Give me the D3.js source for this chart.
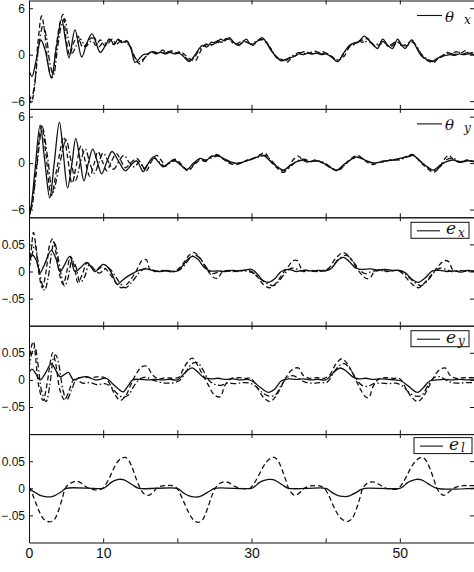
<!DOCTYPE html>
<html>
<head>
<meta charset="utf-8">
<script src="https://cdn.jsdelivr.net/npm/d3@7"></script>
<style>
  html, body { margin: 0; padding: 0; background: #fff; }
  svg { display: block; }
  .tick text { font-family: "Liberation Sans", Arial, sans-serif; fill: #111; }
  .legend text { font-family: "DejaVu Serif", "Liberation Serif", serif; font-style: italic; fill: #111; }
</style>
</head>
<body>
<svg></svg>
<script>
/**
 * Data: [time, value] pairs.
 */
const timeTicks = [0, 10, 20, 30, 40, 50, 60];
const timeLabels = ['0', '10', '', '30', '', '50', ''];
const angleTicks = [-6, 0, 6];
const angleLabels = ['\u22126', '0', '6'];
const errTicks = [-0.05, 0, 0.05];
const errLabels = ['\u2212.05', '0', '0.05'];

const thetaXSolid = [[0,-2.0],[0.4,-2.8],[0.9,-1.0],[1.6,1.9],[2.2,0.5],[3.0,-3.0],[3.7,1.0],[4.4,4.6],[4.9,2.0],[5.4,-0.4],[6.2,3.2],[7.1,-0.3],[7.8,1.5],[8.5,2.7],[9.6,0.3],[10.2,1.0],[10.9,2.0],[11.5,1.3],[12.0,2.0],[12.6,1.6],[13.2,1.8],[13.8,0.6],[14.3,-1.0],[14.8,-0.6],[15.4,0.0],[16.0,0.1],[16.6,0.4],[17.2,0.2],[17.8,0.3],[18.4,0.1],[19.0,0.3],[19.6,0.1],[20.2,0.2],[20.8,-0.2],[21.6,-0.9],[22.2,-0.3],[22.8,0.6],[23.4,1.2],[24.0,1.0],[24.6,1.6],[25.2,1.5],[25.8,2.0],[26.4,1.8],[27.0,2.2],[27.6,1.6],[28.2,1.2],[28.8,1.6],[29.3,2.0],[29.9,1.3],[30.6,1.6],[31.4,2.2],[32.0,1.6],[32.6,0.6],[33.4,-0.3],[34.0,-0.8],[34.6,-0.6],[35.2,-0.4],[35.8,-0.2],[36.4,0.1],[37.0,0.0],[37.6,0.2],[38.2,0.1],[38.8,0.2],[39.4,0.0],[40.0,0.1],[40.8,-0.3],[41.6,-0.9],[42.4,0.2],[43.2,1.2],[43.8,1.5],[44.4,1.6],[45.2,2.4],[45.8,1.9],[46.4,1.3],[47.0,0.8],[47.7,2.0],[48.3,1.3],[49.0,0.8],[49.7,2.0],[50.2,1.3],[50.7,0.8],[51.6,1.9],[52.2,1.0],[52.8,0.0],[53.6,-0.6],[54.4,-0.9],[55.0,-0.5],[55.6,-0.3],[56.2,-0.1],[56.8,0.0],[57.4,-0.1],[58.0,0.1],[58.6,0.0],[59.2,0.1],[60,0.0]];
const thetaXDashed = [[0,-5.7],[0.3,-6.2],[0.7,-4.5],[1.2,1.5],[1.7,5.0],[2.1,3.0],[2.6,-1.5],[3.1,-3.0],[3.6,0.5],[4.2,4.2],[4.6,5.2],[5.0,2.0],[5.5,0.0],[6.0,1.5],[6.6,2.4],[7.2,1.0],[7.8,1.4],[8.4,2.2],[9.0,1.2],[9.6,1.9],[10.2,1.2],[10.8,2.0],[11.4,1.3],[12.0,1.9],[12.6,1.5],[13.2,1.7],[13.8,0.8],[14.5,-0.8],[15.0,-1.2],[15.6,-0.4],[16.2,0.2],[16.8,0.4],[17.4,0.2],[18.0,0.6],[18.6,0.3],[19.2,0.5],[19.8,0.2],[20.4,0.4],[21.0,0.0],[21.8,-0.6],[22.4,-0.8],[23.0,0.2],[23.6,1.2],[24.2,1.4],[24.8,1.3],[25.4,1.8],[26.0,1.6],[26.6,2.1],[27.2,1.8],[27.8,1.5],[28.4,1.3],[29.0,1.7],[29.6,1.5],[30.2,1.2],[30.8,1.8],[31.6,1.9],[32.2,1.4],[32.8,0.4],[33.5,-0.5],[34.1,-0.6],[34.8,-1.0],[35.4,-0.4],[36.0,-0.1],[36.6,0.2],[37.2,0.4],[37.8,0.2],[38.4,0.5],[39.0,0.3],[39.6,0.4],[40.2,0.1],[41.0,-0.4],[41.8,-0.7],[42.5,-0.2],[43.2,1.0],[43.8,1.3],[44.4,1.8],[45.0,1.6],[45.6,2.1],[46.2,1.5],[46.8,1.0],[47.4,1.4],[48.0,1.5],[48.6,1.0],[49.2,1.3],[49.8,1.6],[50.4,1.1],[51.0,1.2],[51.8,1.6],[52.4,0.8],[53.0,-0.2],[53.8,-0.8],[54.6,-1.0],[55.2,-0.4],[55.8,-0.1],[56.4,0.3],[57.0,0.1],[57.6,0.4],[58.2,0.2],[58.8,0.5],[59.4,0.2],[60,0.3]];
const thetaXDashDot = [[0,-5.0],[0.3,-5.8],[0.8,-3.5],[1.3,1.0],[1.9,3.8],[2.4,2.0],[2.8,-1.0],[3.3,-2.6],[3.8,0.5],[4.3,3.5],[4.8,4.6],[5.3,2.0],[5.8,0.2],[6.4,1.2],[7.0,2.0],[7.6,1.0],[8.2,1.6],[8.8,2.2],[9.4,1.0],[10.0,1.6],[10.6,1.4],[11.2,2.0],[11.8,1.4],[12.4,1.8],[13.0,1.6],[13.6,1.1],[14.2,-0.2],[14.8,-0.9],[15.4,-0.6],[16.0,0.0],[16.6,0.3],[17.2,0.1],[17.8,0.4],[18.4,0.2],[19.0,0.5],[19.6,0.2],[20.2,0.3],[20.8,-0.1],[21.6,-0.7],[22.2,-0.5],[22.8,0.4],[23.4,1.0],[24.0,1.3],[24.6,1.2],[25.2,1.7],[25.8,1.5],[26.4,1.9],[27.0,2.0],[27.6,1.4],[28.2,1.5],[28.8,1.8],[29.4,1.6],[30.0,1.4],[30.6,1.7],[31.4,2.0],[32.0,1.5],[32.6,0.8],[33.3,-0.2],[34.0,-0.7],[34.6,-0.8],[35.2,-0.3],[35.8,0.0],[36.4,0.3],[37.0,0.1],[37.6,0.3],[38.2,0.1],[38.8,0.4],[39.4,0.1],[40.0,0.2],[40.8,-0.2],[41.6,-0.8],[42.3,-0.1],[43.0,0.9],[43.6,1.4],[44.2,1.6],[44.8,1.9],[45.4,1.7],[46.0,1.6],[46.6,1.2],[47.2,1.5],[47.8,1.7],[48.4,1.1],[49.0,1.4],[49.6,1.7],[50.2,1.2],[50.8,1.3],[51.6,1.7],[52.2,1.2],[52.8,0.2],[53.6,-0.5],[54.4,-0.8],[55.0,-0.6],[55.6,-0.2],[56.2,0.1],[56.8,0.2],[57.4,0.0],[58.0,0.3],[58.6,0.1],[59.2,0.3],[60,0.2]];

const thetaYSolid = [[0,-6.8],[0.3,-5.5],[0.8,-1.0],[1.5,4.9],[2.1,0.5],[2.8,-4.5],[3.4,0.0],[4.1,5.3],[4.6,1.5],[5.2,-3.2],[5.8,0.0],[6.3,3.2],[6.9,0.3],[7.4,-2.3],[8.0,0.0],[8.6,1.8],[9.2,0.2],[9.8,-1.4],[10.5,0.2],[11.2,1.5],[12.1,0.2],[13.0,-1.0],[13.8,-0.2],[14.5,0.3],[15.0,-0.5],[15.4,-1.1],[16.1,0.0],[16.8,0.8],[17.4,0.2],[18.1,-0.5],[18.8,0.0],[19.5,0.4],[20.4,-0.2],[21.3,-0.8],[22.2,0.0],[23.1,0.6],[23.8,0.3],[24.5,0.8],[25.4,1.0],[26.2,0.6],[27.1,0.2],[27.8,0.0],[28.5,0.0],[29.3,0.3],[30.0,0.5],[30.8,0.8],[31.6,1.0],[32.5,0.3],[33.4,-0.4],[34.3,-0.9],[35.2,-0.3],[36.1,0.2],[37.0,0.4],[37.8,0.2],[38.6,0.3],[39.3,0.2],[40.2,-0.3],[41.5,-0.9],[42.4,-0.2],[43.3,0.4],[44.3,0.8],[45.3,0.4],[46.4,0.0],[47.2,0.1],[48.1,0.3],[49.1,0.4],[50.0,0.6],[50.9,0.8],[51.8,1.0],[52.7,0.3],[53.6,-0.4],[54.5,-0.9],[55.4,-0.3],[56.3,0.2],[57.2,0.4],[58.2,0.1],[59.1,0.3],[60,0.2]];
const thetaYDashed = [[0,-6.9],[0.3,-6.0],[0.9,-1.5],[1.7,4.8],[2.3,1.0],[3.0,-4.2],[3.8,-0.5],[4.7,3.4],[5.2,0.8],[5.8,-2.6],[6.4,-0.2],[7.0,2.2],[7.6,0.2],[8.2,-1.7],[8.8,0.0],[9.3,1.5],[9.9,0.2],[10.5,-1.0],[11.1,0.2],[11.8,1.2],[12.4,0.3],[13.0,-0.6],[13.7,0.0],[14.5,0.6],[15.2,-0.2],[15.8,-1.0],[16.5,0.2],[17.2,1.0],[17.8,0.4],[18.4,-0.3],[19.0,0.1],[19.7,0.5],[20.5,-0.1],[21.4,-1.0],[22.3,-0.2],[23.1,0.4],[23.8,0.2],[24.6,0.9],[25.4,1.1],[26.2,0.5],[27.0,0.0],[27.8,-0.2],[28.6,0.0],[29.4,0.4],[30.2,0.6],[31.0,1.0],[31.8,1.3],[32.6,0.2],[33.4,-0.6],[34.3,-1.2],[35.0,-0.6],[35.6,0.4],[36.3,0.9],[37.0,0.3],[37.8,0.1],[38.6,0.4],[39.4,0.1],[40.3,-0.4],[41.6,-1.0],[42.5,-0.3],[43.3,0.5],[44.3,1.0],[45.3,0.3],[46.3,-0.2],[47.2,0.1],[48.1,0.2],[49.1,0.5],[50.0,0.4],[50.9,0.9],[51.8,1.1],[52.7,0.2],[53.6,-0.6],[54.5,-1.2],[55.3,-0.6],[56.0,0.5],[56.6,1.0],[57.3,0.4],[58.2,0.1],[59.1,0.4],[60,0.2]];
const thetaYDashDot = [[0,-6.6],[0.4,-5.5],[1.0,-1.0],[1.8,4.6],[2.5,0.8],[3.2,-3.8],[4.1,-0.3],[5.0,3.0],[5.6,0.6],[6.3,-2.2],[6.9,0.0],[7.6,1.8],[8.2,0.0],[8.8,-1.3],[9.4,0.0],[10.0,1.3],[10.7,0.2],[11.4,-0.8],[12.1,0.2],[12.8,1.0],[13.5,0.1],[14.2,-0.5],[14.9,0.2],[15.5,-0.7],[16.2,0.1],[16.9,0.6],[17.6,0.1],[18.3,-0.4],[19.0,0.0],[19.7,0.3],[20.5,-0.3],[21.4,-0.9],[22.3,-0.1],[23.1,0.5],[23.9,0.4],[24.7,0.7],[25.5,0.9],[26.3,0.5],[27.1,0.1],[27.9,0.0],[28.7,0.1],[29.5,0.3],[30.3,0.6],[31.1,0.8],[31.9,1.0],[32.7,0.3],[33.5,-0.5],[34.4,-1.0],[35.3,-0.4],[36.2,0.3],[37.1,0.5],[38.0,0.2],[38.9,0.3],[39.7,0.1],[40.5,-0.4],[41.6,-0.9],[42.6,-0.2],[43.5,0.5],[44.5,0.7],[45.5,0.3],[46.5,0.0],[47.4,0.2],[48.3,0.3],[49.2,0.4],[50.1,0.5],[51.0,0.8],[51.9,0.9],[52.8,0.2],[53.7,-0.5],[54.6,-1.0],[55.5,-0.4],[56.4,0.5],[57.2,0.6],[58.1,0.2],[59.0,0.3],[60,0.2]];

const exSolid = [[0,0.019],[0.5,0.03],[1.0,0.02],[1.5,-0.002],[2.0,0.01],[3.0,0.039],[3.6,0.025],[4.2,0.0],[4.7,0.01],[5.5,0.028],[6.2,0.0],[7.0,0.008],[7.8,0.017],[8.9,0.0],[9.5,0.008],[10.0,0.013],[10.7,0.007],[11.3,-0.008],[11.9,-0.024],[12.6,-0.016],[13.4,-0.008],[14.2,-0.002],[15.0,0.003],[15.8,0.005],[16.6,0.002],[17.4,0.0],[18.4,0.001],[19.2,0.0],[20.0,0.001],[20.8,0.012],[21.5,0.024],[22.1,0.028],[22.8,0.022],[23.6,0.008],[24.4,0.001],[25.4,0.001],[26.4,0.0],[27.4,0.002],[28.4,0.001],[29.2,0.003],[30.0,0.004],[30.8,-0.005],[31.5,-0.016],[32.3,-0.02],[33.1,-0.014],[34.0,0.0],[35.0,0.004],[36.0,0.0],[37.0,0.002],[38.0,0.001],[39.0,0.002],[40.0,0.001],[40.8,0.006],[41.6,0.02],[42.4,0.026],[43.2,0.018],[44.1,0.006],[45.0,0.004],[46.0,0.005],[47.0,0.003],[48.0,0.004],[49.0,0.002],[50.0,0.002],[50.8,-0.003],[51.6,-0.014],[52.5,-0.02],[53.4,-0.012],[54.4,0.001],[55.4,0.002],[56.4,0.0],[57.4,0.001],[58.4,-0.001],[59.2,0.002],[60,0.0]];
const exDashed = [[0,0.01],[0.3,0.04],[0.6,0.072],[0.9,0.05],[1.3,0.0],[1.8,-0.03],[2.3,0.0],[2.8,0.05],[3.2,0.06],[3.7,0.03],[4.2,-0.01],[4.6,-0.024],[5.1,0.0],[5.6,0.028],[6.1,0.01],[6.6,-0.02],[7.2,-0.005],[7.8,0.016],[8.4,0.01],[9.0,0.002],[9.8,0.008],[10.4,0.004],[11.2,-0.01],[11.8,-0.022],[12.5,-0.03],[13.3,-0.022],[14.2,-0.005],[14.8,0.01],[15.2,0.02],[15.8,0.022],[16.3,0.004],[17.0,0.0],[18.0,0.002],[19.0,0.0],[20.0,0.003],[20.8,0.015],[21.6,0.03],[22.3,0.035],[23.0,0.026],[23.7,0.01],[24.4,-0.004],[25.0,-0.012],[25.5,-0.012],[26.0,-0.002],[27.0,0.002],[28.0,0.0],[29.0,0.002],[30.0,0.0],[30.8,-0.01],[31.6,-0.024],[32.5,-0.03],[33.4,-0.02],[34.2,-0.004],[35.0,0.01],[35.6,0.02],[36.2,0.02],[36.8,0.004],[37.6,0.002],[38.6,0.0],[39.6,0.002],[40.4,0.006],[41.4,0.025],[42.4,0.035],[43.3,0.025],[44.2,0.006],[45.0,-0.008],[45.5,-0.013],[46.0,-0.012],[46.6,0.0],[47.6,0.002],[48.6,0.0],[49.6,0.002],[50.4,-0.004],[51.4,-0.02],[52.5,-0.03],[53.4,-0.02],[54.4,-0.004],[55.2,0.01],[56.0,0.02],[56.6,0.018],[57.2,0.002],[58.2,0.0],[59.2,0.002],[60,0.0]];
const exDashDot = [[0,0.005],[0.4,0.03],[0.8,0.05],[1.2,0.02],[1.7,-0.02],[2.1,-0.035],[2.6,-0.01],[3.1,0.04],[3.4,0.055],[3.8,0.035],[4.4,-0.01],[4.8,-0.027],[5.3,-0.01],[5.8,0.02],[6.3,0.01],[6.9,-0.02],[7.5,-0.01],[8.1,0.012],[8.8,0.004],[9.5,-0.003],[10.2,0.004],[10.8,0.006],[11.5,-0.006],[12.2,-0.02],[13.0,-0.03],[13.7,-0.022],[14.3,-0.012],[15.0,0.0],[15.8,0.006],[16.6,0.003],[17.5,0.0],[18.5,0.002],[19.5,0.0],[20.3,0.003],[21.0,0.012],[21.8,0.026],[22.5,0.03],[23.2,0.022],[24.0,0.006],[24.8,-0.004],[25.6,0.0],[26.6,0.001],[27.6,0.0],[28.6,0.002],[29.6,0.0],[30.4,-0.004],[31.2,-0.014],[32.1,-0.022],[33.0,-0.026],[33.8,-0.016],[34.6,-0.002],[35.4,0.006],[36.2,0.004],[37.0,0.0],[38.0,0.002],[39.0,0.0],[40.0,0.002],[40.8,0.008],[41.7,0.022],[42.8,0.03],[43.6,0.02],[44.5,0.004],[45.3,-0.004],[46.2,0.0],[47.2,0.002],[48.2,0.0],[49.2,0.002],[50.2,0.0],[51.0,-0.008],[52.0,-0.02],[52.9,-0.026],[53.8,-0.016],[54.6,-0.002],[55.4,0.006],[56.2,0.004],[57.0,0.0],[58.0,0.002],[59.0,0.0],[60,0.001]];

const eySolid = [[0,0.014],[0.4,0.02],[0.9,0.012],[1.5,0.0],[2.2,0.012],[3.0,0.03],[3.6,0.018],[4.2,0.006],[4.8,0.01],[5.3,0.014],[6.0,0.0],[6.8,0.004],[7.8,0.006],[9.0,0.0],[10.4,0.003],[11.2,-0.006],[12.0,-0.016],[12.7,-0.022],[13.4,-0.01],[14.0,0.0],[15.0,0.001],[16.0,0.0],[17.0,0.001],[18.0,0.0],[19.0,0.001],[20.0,0.0],[20.8,0.01],[21.4,0.018],[22.0,0.022],[22.8,0.014],[23.5,0.005],[24.5,0.002],[25.5,0.003],[26.5,0.001],[27.5,0.002],[28.5,0.0],[29.5,0.001],[30.3,-0.004],[31.2,-0.014],[32.3,-0.023],[33.2,-0.016],[34.0,-0.002],[35.0,0.002],[36.0,0.001],[37.0,0.002],[38.0,0.0],[39.0,0.001],[40.0,0.0],[40.7,0.008],[41.4,0.018],[42.0,0.022],[42.8,0.016],[43.6,0.006],[44.4,0.002],[45.4,0.003],[46.4,0.001],[47.4,0.002],[48.4,0.001],[49.4,0.0],[50.2,-0.002],[51.2,-0.012],[52.4,-0.023],[53.2,-0.014],[54.0,-0.002],[55.0,0.0],[56.0,0.001],[57.0,0.0],[58.0,0.001],[59.0,0.0],[60,0.0]];
const eyDashed = [[0,0.03],[0.3,0.06],[0.6,0.071],[0.9,0.04],[1.3,-0.01],[1.9,-0.038],[2.4,-0.01],[2.9,0.035],[3.2,0.05],[3.6,0.03],[4.2,-0.02],[4.8,-0.037],[5.4,-0.02],[6.0,0.0],[6.6,0.003],[7.4,0.005],[8.4,0.004],[9.4,0.006],[10.2,0.004],[10.8,-0.005],[11.5,-0.025],[12.3,-0.038],[13.0,-0.03],[13.7,-0.01],[14.4,0.01],[15.2,0.024],[15.9,0.025],[16.6,0.01],[17.4,0.002],[18.4,0.004],[19.4,0.003],[20.2,0.005],[20.8,0.02],[21.5,0.035],[22.0,0.04],[22.6,0.03],[23.4,0.01],[24.2,-0.01],[25.0,-0.028],[25.8,-0.031],[26.4,-0.01],[27.2,0.002],[28.2,0.004],[29.2,0.003],[30.0,0.002],[30.8,-0.015],[31.6,-0.032],[32.5,-0.04],[33.3,-0.03],[34.1,-0.01],[34.9,0.01],[35.6,0.02],[36.3,0.022],[37.0,0.008],[37.8,0.003],[38.8,0.004],[39.8,0.003],[40.6,0.01],[41.4,0.03],[42.2,0.039],[43.0,0.028],[43.8,0.008],[44.6,-0.015],[45.3,-0.03],[45.8,-0.033],[46.4,-0.012],[47.2,0.002],[48.2,0.004],[49.2,0.003],[50.0,0.002],[50.8,-0.015],[51.6,-0.032],[52.4,-0.04],[53.2,-0.03],[54.0,-0.01],[54.8,0.01],[55.5,0.02],[56.1,0.022],[56.8,0.008],[57.6,0.003],[58.6,0.004],[59.4,0.004],[60,0.004]];
const eyDashDot = [[0,0.02],[0.4,0.05],[0.8,0.06],[1.2,0.03],[1.7,-0.02],[2.3,-0.04],[2.8,-0.01],[3.3,0.04],[3.6,0.046],[4.0,0.03],[4.6,-0.02],[5.1,-0.037],[5.7,-0.02],[6.4,0.0],[7.2,-0.006],[8.2,-0.005],[9.2,-0.009],[10.2,-0.007],[11.0,-0.012],[11.8,-0.024],[12.6,-0.032],[13.4,-0.028],[14.2,-0.01],[15.0,0.002],[15.8,0.005],[16.6,0.0],[17.6,-0.004],[18.6,-0.006],[19.6,-0.005],[20.4,0.0],[21.2,0.016],[22.0,0.03],[22.7,0.032],[23.4,0.02],[24.2,0.0],[25.0,-0.008],[25.8,-0.01],[26.8,-0.006],[27.8,-0.007],[28.8,-0.005],[29.8,-0.006],[30.6,-0.012],[31.5,-0.024],[32.4,-0.03],[33.2,-0.028],[34.0,-0.01],[34.8,0.004],[35.6,0.008],[36.4,0.002],[37.2,-0.004],[38.2,-0.006],[39.2,-0.005],[40.2,-0.004],[41.0,0.012],[41.8,0.026],[42.5,0.03],[43.3,0.02],[44.1,0.002],[44.9,-0.01],[45.7,-0.012],[46.5,-0.007],[47.5,-0.006],[48.5,-0.007],[49.5,-0.006],[50.4,-0.012],[51.3,-0.024],[52.2,-0.03],[53.0,-0.028],[53.8,-0.01],[54.6,0.004],[55.4,0.006],[56.2,0.0],[57.0,-0.005],[58.0,-0.006],[59.0,-0.005],[60,-0.005]];

const elSolid = [[0,0],[0.5,-0.005],[1,-0.009],[1.5,-0.013],[2,-0.015],[2.6,-0.016],[3.2,-0.015],[3.8,-0.011],[4.4,-0.006],[5.0,0],[10,0],[10.5,0.004],[11,0.01],[11.5,0.014],[12.1,0.0165],[12.7,0.016],[13.3,0.012],[14,0.006],[14.8,0],[20,0],[20.5,-0.005],[21,-0.01],[21.6,-0.014],[22.2,-0.016],[22.8,-0.016],[23.4,-0.013],[24,-0.008],[24.5,-0.004],[25,0],[30,0],[30.5,0.004],[31,0.01],[31.6,0.014],[32.3,0.0165],[32.9,0.016],[33.5,0.012],[34.2,0.006],[35,0],[40,0],[40.5,-0.004],[41,-0.009],[41.6,-0.013],[42.3,-0.015],[42.9,-0.015],[43.5,-0.012],[44.2,-0.007],[44.8,-0.002],[45.3,0],[50,0],[50.5,0.004],[51,0.01],[51.6,0.014],[52.2,0.0165],[52.8,0.016],[53.4,0.012],[54.1,0.006],[55,0],[60,0]];
const elDashed = [[0,0.003],[0.5,-0.012],[1.0,-0.03],[1.5,-0.046],[2.0,-0.057],[2.8,-0.062],[3.4,-0.058],[4.0,-0.04],[4.5,-0.018],[4.9,0],[5.4,0.008],[6.0,0.012],[6.4,0.013],[7.0,0.01],[7.8,0.002],[8.5,-0.002],[9.2,-0.003],[9.8,-0.001],[10.2,0.004],[10.8,0.018],[11.4,0.036],[12.0,0.05],[12.6,0.056],[13.0,0.057],[13.5,0.05],[14.0,0.035],[14.5,0.016],[15.0,0],[15.5,-0.01],[16.1,-0.013],[16.7,-0.008],[17.2,0],[17.8,0.004],[18.6,0.005],[19.3,0.005],[19.8,0.002],[20.3,-0.008],[20.9,-0.026],[21.5,-0.044],[22.1,-0.057],[22.8,-0.063],[23.4,-0.058],[24.0,-0.04],[24.6,-0.016],[25.1,0],[25.6,0.008],[26.3,0.012],[27.0,0.01],[27.8,0.003],[28.5,0.0],[29.2,-0.001],[29.8,0.0],[30.3,0.008],[30.9,0.022],[31.5,0.038],[32.1,0.05],[32.7,0.056],[33.1,0.057],[33.6,0.05],[34.1,0.035],[34.6,0.016],[35.0,0],[35.5,-0.01],[35.9,-0.013],[36.5,-0.008],[37.1,0],[37.8,0.004],[38.6,0.005],[39.3,0.004],[39.8,0.0],[40.3,-0.01],[40.9,-0.028],[41.5,-0.045],[42.2,-0.057],[43.0,-0.061],[43.6,-0.055],[44.2,-0.036],[44.7,-0.014],[45.0,0],[45.6,0.009],[46.4,0.012],[47.1,0.008],[47.8,0.002],[48.5,-0.001],[49.2,-0.002],[49.8,0.0],[50.3,0.008],[50.9,0.022],[51.5,0.038],[52.1,0.05],[52.7,0.056],[53.1,0.057],[53.6,0.05],[54.1,0.035],[54.6,0.016],[55.0,0],[55.5,-0.01],[55.9,-0.013],[56.5,-0.008],[57.1,-0.001],[57.8,0.003],[58.6,0.005],[59.3,0.005],[60,0.005]];

/**
 * Set stuff up.
 */
const width = 474;
const height = 572;
const left = 29;
const right = 474;
const panelTop = 0.5;
const panelH = 108.4;

const svg = d3.select('svg')
    .attr('width', width)
    .attr('height', height)
    .attr('viewBox', `0 0 ${width} ${height}`);

const x = d3.scaleLinear().domain([0, 60]).range([left, right]);

const styles = {
    solid: null,
    dashed: '5,3',
    dashdot: '6,2.5,1.5,2.5'
};

const panels = [
    { domain: [-7, 7], ticks: angleTicks, labels: angleLabels, legend: ['\u03b8', 'x'], boxed: false,
      series: [[thetaXSolid, 'solid'], [thetaXDashed, 'dashed'], [thetaXDashDot, 'dashdot']] },
    { domain: [-7, 7], ticks: angleTicks, labels: angleLabels, legend: ['\u03b8', 'y'], boxed: false,
      series: [[thetaYSolid, 'solid'], [thetaYDashed, 'dashed'], [thetaYDashDot, 'dashdot']] },
    { domain: [-0.1, 0.1], ticks: errTicks, labels: errLabels, legend: ['e', 'x'], boxed: true,
      series: [[exSolid, 'solid'], [exDashed, 'dashed'], [exDashDot, 'dashdot']] },
    { domain: [-0.1, 0.1], ticks: errTicks, labels: errLabels, legend: ['e', 'y'], boxed: true,
      series: [[eySolid, 'solid'], [eyDashed, 'dashed'], [eyDashDot, 'dashdot']] },
    { domain: [-0.1, 0.1], ticks: errTicks, labels: errLabels, legend: ['e', 'l'], boxed: true,
      series: [[elSolid, 'solid'], [elDashed, 'dashed']] }
];

panels.forEach(function (p, i) {
    const top = panelTop + i * panelH;
    const bottom = top + panelH;
    const y = d3.scaleLinear().domain(p.domain).range([bottom, top]);
    const g = svg.append('g');

    g.append('clipPath')
        .attr('id', 'clip' + i)
        .append('rect')
        .attr('x', left).attr('y', top)
        .attr('width', right - left).attr('height', panelH);

    const line = d3.line()
        .x(d => x(d[0]))
        .y(d => y(d[1]))
        .curve(d3.curveCatmullRom.alpha(0.5));

    // Lines
    g.append('g')
        .attr('clip-path', `url(#clip${i})`)
        .selectAll('path')
        .data(p.series)
        .enter()
        .append('path')
        .attr('d', d => line(d[0]))
        .attr('fill', 'none')
        .attr('stroke', '#111')
        .attr('stroke-width', 1.3)
        .attr('stroke-dasharray', d => styles[d[1]]);

    // Axes, MATLAB style with inward ticks on all four sides
    const labelMap = new Map(p.ticks.map((t, k) => [t, p.labels[k]]));
    g.append('g')
        .attr('transform', `translate(${left},0)`)
        .call(d3.axisLeft(y).tickValues(p.ticks).tickSize(-4).tickSizeOuter(0).tickPadding(4)
            .tickFormat(t => labelMap.get(t)))
        .call(a => a.selectAll('text').attr('font-size', 12));
    g.append('g')
        .attr('transform', `translate(${right},0)`)
        .call(d3.axisRight(y).tickValues(p.ticks).tickSize(-4).tickSizeOuter(0).tickFormat(''));
    g.append('g')
        .attr('transform', `translate(0,${top})`)
        .call(d3.axisTop(x).tickValues(timeTicks).tickSize(-4).tickSizeOuter(0).tickFormat(''));
    const last = i === panels.length - 1;
    g.append('g')
        .attr('transform', `translate(0,${bottom})`)
        .call(d3.axisBottom(x).tickValues(timeTicks).tickSize(-4).tickSizeOuter(0).tickPadding(6)
            .tickFormat((t, k) => last ? timeLabels[k] : ''))
        .call(a => a.selectAll('text').attr('font-size', 14));

    g.selectAll('.domain, .tick line').attr('stroke', '#111').attr('stroke-width', 1);

    // Legend
    const lg = g.append('g').attr('class', 'legend');
    if (p.boxed) {
        const bx = i === 4 ? 414 : 411;
        const by = top + (i === 4 ? 3.5 : 5);
        lg.append('rect')
            .attr('x', bx).attr('y', by)
            .attr('width', 58).attr('height', 16)
            .attr('fill', '#fff').attr('stroke', '#111').attr('stroke-width', 1);
        lg.append('line')
            .attr('x1', bx + 6).attr('x2', bx + 29)
            .attr('y1', by + 8.5).attr('y2', by + 8.5)
            .attr('stroke', '#111').attr('stroke-width', 1.1);
        lg.append('text').attr('x', bx + 35).attr('y', by + 12).attr('font-size', 17).text(p.legend[0]);
        lg.append('text').attr('x', bx + 47).attr('y', by + 14.5).attr('font-size', 12).text(p.legend[1]);
    } else {
        lg.append('line')
            .attr('x1', 417).attr('x2', 442)
            .attr('y1', top + 15).attr('y2', top + 15)
            .attr('stroke', '#111').attr('stroke-width', 1.1);
        lg.append('text').attr('x', 445).attr('y', top + 21).attr('font-size', 15).text(p.legend[0]);
        lg.append('text').attr('x', 464).attr('y', top + 23).attr('font-size', 12).text(p.legend[1]);
    }
});
</script>
</body>
</html>
